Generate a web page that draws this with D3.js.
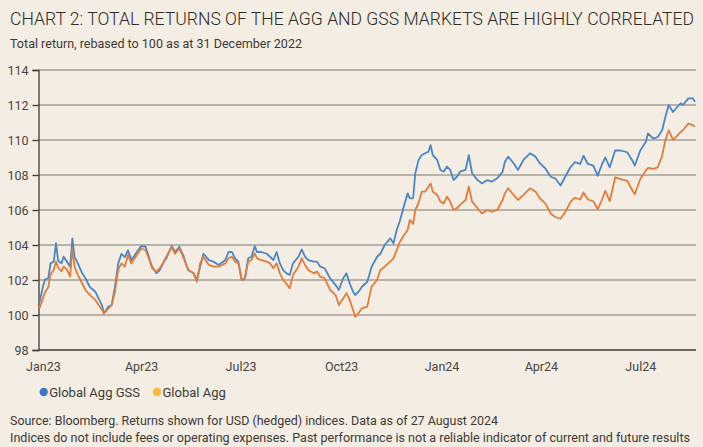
<!DOCTYPE html>
<html>
<head>
<meta charset="utf-8">
<script src="https://cdn.jsdelivr.net/npm/d3@7"></script>
<style>
  html, body { margin: 0; padding: 0; background: #f3ede3; }
  svg { display: block; font-family: Roboto, "Open Sans", sans-serif; }
</style>
</head>
<body>
<svg id="chart" width="703" height="447"></svg>
<script>
// dates, one per reading
const dates = [
  "2022-12-29","2023-01-01","2023-01-03","2023-01-06","2023-01-08","2023-01-11","2023-01-13","2023-01-15",
  "2023-01-18","2023-01-20","2023-01-23","2023-01-26","2023-01-28","2023-01-30","2023-02-02","2023-02-06",
  "2023-02-09","2023-02-13","2023-02-18","2023-02-21","2023-02-24","2023-02-26","2023-03-02","2023-03-05",
  "2023-03-08","2023-03-11","2023-03-14","2023-03-17","2023-03-20","2023-03-23","2023-03-27","2023-04-01",
  "2023-04-05","2023-04-08","2023-04-11","2023-04-15","2023-04-18","2023-04-21","2023-04-24","2023-04-29",
  "2023-05-02","2023-05-06","2023-05-10","2023-05-14","2023-05-19","2023-05-22","2023-05-25","2023-05-28",
  "2023-06-02","2023-06-06","2023-06-11","2023-06-17","2023-06-20","2023-06-23","2023-06-26","2023-06-29",
  "2023-07-02","2023-07-05","2023-07-08","2023-07-11","2023-07-14","2023-07-16","2023-07-20","2023-07-25",
  "2023-07-28","2023-07-31","2023-08-03","2023-08-06","2023-08-09","2023-08-12","2023-08-15","2023-08-18",
  "2023-08-23","2023-08-26","2023-08-29","2023-09-01","2023-09-06","2023-09-09","2023-09-12","2023-09-16",
  "2023-09-21","2023-09-26","2023-09-29","2023-10-03","2023-10-06","2023-10-09","2023-10-12","2023-10-14",
  "2023-10-17","2023-10-20","2023-10-25","2023-10-29","2023-11-03","2023-11-06","2023-11-10","2023-11-15",
  "2023-11-18","2023-11-21","2023-11-24","2023-11-27","2023-12-01","2023-12-03","2023-12-06","2023-12-08",
  "2023-12-11","2023-12-14","2023-12-17","2023-12-20","2023-12-22","2023-12-24","2023-12-28","2023-12-31",
  "2024-01-03","2024-01-06","2024-01-09","2024-01-12","2024-01-15","2024-01-18","2024-01-23","2024-01-26",
  "2024-01-29","2024-02-03","2024-02-07","2024-02-12","2024-02-16","2024-02-21","2024-02-26","2024-02-28",
  "2024-03-02","2024-03-07","2024-03-11","2024-03-16","2024-03-22","2024-03-27","2024-03-31","2024-04-05",
  "2024-04-10","2024-04-14","2024-04-19","2024-04-23","2024-04-28","2024-05-02","2024-05-07","2024-05-10",
  "2024-05-14","2024-05-19","2024-05-23","2024-05-27","2024-05-30","2024-06-03","2024-06-08","2024-06-13",
  "2024-06-19","2024-06-24","2024-06-26","2024-07-01","2024-07-06","2024-07-08","2024-07-13","2024-07-17",
  "2024-07-21","2024-07-24","2024-07-27","2024-07-31","2024-08-04","2024-08-07","2024-08-09","2024-08-14",
  "2024-08-18","2024-08-20"
];

const gss = [
  100.76,101.6,102.04,102.1,102.95,103.05,104.1,103.1,102.95,103.33,103.05,102.76,104.38,103.33,102.95,102.38,
  102.1,101.6,101.33,100.95,100.57,100.1,100.48,100.57,101.6,102.95,103.5,103.3,103.7,103.14,103.5,103.94,
  103.9,103.33,102.76,102.38,102.57,102.95,103.24,103.94,103.6,103.9,103.33,102.57,102.38,102.0,102.76,103.5,
  103.14,103.05,102.86,103.14,103.6,103.6,103.24,103.05,102.0,102.1,103.24,103.33,103.94,103.6,103.6,103.5,
  103.33,103.14,103.6,102.95,102.57,102.38,102.29,102.95,103.33,103.75,103.33,103.14,103.05,103.05,102.76,102.67,
  102.1,101.71,101.43,102.1,102.38,101.8,101.33,101.14,101.33,101.6,101.9,102.76,103.33,103.5,104.0,104.38,
  104.1,104.86,105.4,106.1,106.95,106.67,106.67,108.1,108.86,109.14,109.24,109.33,109.71,109.14,108.86,108.29,
  108.19,108.48,108.29,107.71,107.9,108.19,108.29,109.14,108.1,107.71,107.52,107.71,107.62,107.81,108.19,108.76,
  109.05,108.67,108.29,108.86,109.24,109.05,108.67,108.38,107.9,107.81,107.4,107.87,108.44,108.73,108.63,109.1,
  108.63,108.54,107.96,108.63,109.0,108.44,109.4,109.4,109.3,108.8,108.54,109.4,109.88,110.37,110.08,110.17,
  110.56,111.33,112.0,111.6,111.9,112.1,112.0,112.38,112.38,112.19
];

const agg = [
  100.4,100.95,101.3,101.6,102.3,102.6,103.05,102.7,102.5,102.76,102.6,102.2,103.8,102.76,102.3,101.8,
  101.43,101.14,100.86,100.57,100.3,100.1,100.38,100.57,101.33,102.6,102.95,102.76,103.43,102.95,103.33,103.8,
  103.7,103.24,102.67,102.48,102.67,102.95,103.33,103.9,103.5,103.8,103.24,102.57,102.38,101.9,102.95,103.33,
  102.86,102.76,102.76,102.95,103.24,103.33,103.05,102.95,102.0,102.1,103.05,103.14,103.52,103.24,103.14,103.05,
  102.95,102.67,102.95,102.38,102.0,101.8,101.52,102.29,102.76,103.24,102.86,102.57,102.38,102.48,102.19,102.1,
  101.43,101.14,100.57,100.95,101.24,100.86,100.29,99.9,100.1,100.38,100.48,101.62,102.0,102.57,102.76,103.05,
  103.24,103.71,104.19,104.5,104.86,105.43,105.2,106.0,106.4,107.05,107.05,107.33,107.52,107.05,106.86,106.48,
  106.38,106.76,106.48,106.0,106.1,106.29,106.57,107.33,106.48,106.1,105.8,106.0,105.9,106.0,106.57,106.95,
  107.24,106.86,106.57,106.86,107.24,107.05,106.67,106.38,105.8,105.6,105.5,105.85,106.45,106.7,106.6,107.0,
  106.6,106.5,106.04,106.6,107.1,106.5,107.87,107.77,107.67,107.1,106.9,107.77,108.25,108.4,108.35,108.44,
  109.1,110.0,110.56,110.0,110.27,110.46,110.56,110.94,110.85,110.75
];

const seriesNames = ["Global Agg GSS", "Global Agg"];
const lineColors = ["#4a86c4", "#e27c3a"];
const legendColors = ["#3a7dc6", "#f6b93a"];

const yTicks = [98, 100, 102, 104, 106, 108, 110, 112, 114];
const xTickDates = ["2023-01-01","2023-04-01","2023-07-01","2023-10-01","2024-01-01","2024-04-01","2024-07-01"];
const xTickLabels = ["Jan23","Apr23","Jul23","Oct23","Jan24","Apr24","Jul24"];

const title = "CHART 2: TOTAL RETURNS OF THE AGG AND GSS MARKETS ARE HIGHLY CORRELATED";
const subtitle = "Total return, rebased to 100 as at 31 December 2022";
const notes = [
  "Source: Bloomberg. Returns shown for USD (hedged) indices. Data as of 27 August 2024",
  "Indices do not include fees or operating expenses. Past performance is not a reliable indicator of current and future results"
];

const parse = d3.timeParse("%Y-%m-%d");
const svg = d3.select("#chart");

const x = d3.scaleTime()
  .domain([parse("2022-12-28"), parse("2024-08-21")])
  .range([38.5, 696]);
const y = d3.scaleLinear().domain([98, 114]).range([350, 70]);

// title block - the original face is condensed, so draw smaller and stretch up
svg.append("g")
  .attr("transform", "translate(10,25) scale(1,1.2)")
  .append("text")
  .attr("x", 0).attr("y", 0)
  .attr("textLength", 684).attr("lengthAdjust", "spacingAndGlyphs")
  .style("font-size", "15.5px").style("font-weight", 300)
  .style("fill", "#2e2b28")
  .text(title);

svg.append("text")
  .attr("x", 10).attr("y", 48)
  .attr("textLength", 292).attr("lengthAdjust", "spacingAndGlyphs")
  .style("font-size", "13px").style("fill", "#3d3a36")
  .text(subtitle);

// grid
svg.append("g")
  .selectAll("line")
  .data(yTicks.filter(d => d !== 98))
  .enter()
  .append("line")
  .attr("x1", 38.5).attr("x2", 696)
  .attr("y1", d => y(d)).attr("y2", d => y(d))
  .attr("stroke", "#a59e96").attr("stroke-width", 1.5);

// y axis
const yAxis = svg.append("g")
  .attr("transform", "translate(38.5,0)")
  .call(d3.axisLeft(y).tickValues(yTicks).tickSize(6).tickPadding(4).tickFormat(d3.format("d")));
yAxis.select(".domain").attr("stroke", "#3f3a35").attr("stroke-width", 1.3);
yAxis.selectAll(".tick line").attr("stroke", "#3f3a35").attr("stroke-width", 1.3);
yAxis.selectAll("text")
  .style("font-size", "12.5px").style("fill", "#4a4541")
  .style("font-family", "Roboto, sans-serif");

// x axis (base line + month labels)
const xAxis = svg.append("g")
  .attr("transform", "translate(0,350)")
  .call(d3.axisBottom(x)
    .tickValues(xTickDates.map(parse))
    .tickSize(0).tickPadding(12)
    .tickFormat((d, i) => xTickLabels[i]));
xAxis.select(".domain").attr("d", "M38.5,0H696").attr("stroke", "#3f3a35").attr("stroke-width", 1.3);
xAxis.selectAll("text")
  .style("font-size", "12.5px").style("fill", "#4a4541")
  .style("font-family", "Roboto, sans-serif");

// lines
const line = d3.line()
  .x((d, i) => x(parse(dates[i])))
  .y(d => y(d));

[gss, agg].forEach((s, k) => {
  svg.append("path")
    .attr("d", line(s))
    .attr("fill", "none")
    .attr("stroke", lineColors[k])
    .attr("stroke-width", 1.8)
    .attr("stroke-linejoin", "round");
});

// legend
const legendX = [43.7, 157];
const lg = svg.append("g");
seriesNames.forEach((name, k) => {
  lg.append("circle")
    .attr("cx", legendX[k]).attr("cy", 392).attr("r", 4.2)
    .attr("fill", legendColors[k]);
  lg.append("text")
    .attr("x", legendX[k] + 5.5).attr("y", 397)
    .style("font-size", "13px").style("fill", "#3d3a36")
    .text(name);
});

// footnotes
svg.selectAll(".note")
  .data(notes)
  .enter()
  .append("text")
  .attr("class", "note")
  .attr("x", 10)
  .attr("y", (d, i) => 425 + i * 17)
  .attr("textLength", (d, i) => i === 0 ? 488 : 680)
  .attr("lengthAdjust", "spacingAndGlyphs")
  .style("font-size", "12.5px").style("fill", "#3d3a36")
  .text(d => d);
</script>
</body>
</html>
